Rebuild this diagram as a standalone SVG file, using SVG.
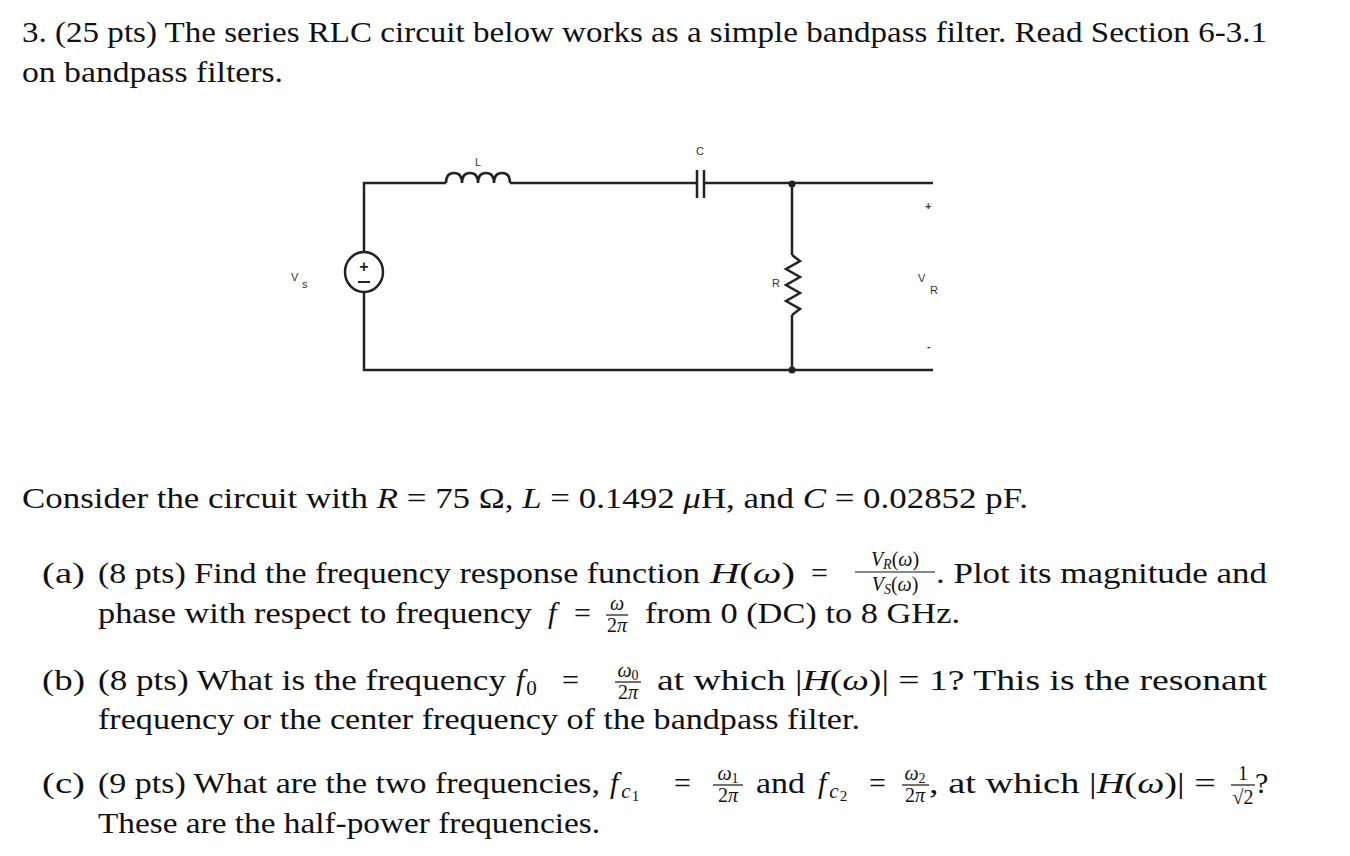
<svg xmlns="http://www.w3.org/2000/svg" width="1350" height="856" viewBox="0 0 1350 856">
<style>
.t{font-family:"Liberation Serif","DejaVu Serif",serif;font-size:30px;fill:#111}
.i{font-style:italic}
.s{font-family:"Liberation Serif",serif;font-size:20px;fill:#111}
.c{font-family:"Liberation Sans",Arial,sans-serif;font-size:11px;fill:#333}
.w{stroke:#222;stroke-width:2.5;fill:none}
.fl{stroke:#111;stroke-width:1.2}
</style>
<rect width="1350" height="856" fill="#fff"/>
<text class="t" x="22" y="42" textLength="1245" lengthAdjust="spacingAndGlyphs">3. (25 pts) The series RLC circuit below works as a simple bandpass filter. Read Section 6-3.1</text>
<text class="t" x="22" y="82" textLength="261" lengthAdjust="spacingAndGlyphs">on bandpass filters.</text>
<g id="wires">
<path class="w" d="M364,253 V183 H446 M510,183 H697 M704,183 H933 M364,291 V370 H933 M792,183 V255 M792,315 V370"/>
</g>
<g id="L"><path class="w" d="M446,183 q0,-10 8,-10 q8,0 8,10 q0,-10 8,-10 q8,0 8,10 q0,-10 8,-10 q8,0 8,10 q0,-10 8,-10 q8,0 8,10"/><text class="c" x="478" y="166" text-anchor="middle">L</text></g>
<g id="C"><path class="w" d="M697,170 V198 M704,170 V198"/><text class="c" x="700" y="155" text-anchor="middle">C</text></g>
<g id="R"><path class="w" d="M792,255 l8,6 l-14,8 l14,8 l-14,8 l14,8 l-14,8 l14,8 l-8,6"/><text class="c" x="780" y="287" text-anchor="end">R</text></g>
<g id="Vs"><ellipse class="w" cx="364" cy="272" rx="19" ry="20"/><text x="364" y="272" font-family="Liberation Sans,sans-serif" font-size="16" font-weight="bold" text-anchor="middle" fill="#222">+</text><path d="M358,282 h12" stroke="#222" stroke-width="2"/><text class="c" x="291" y="281" font-size="16">V</text><text class="c" x="302" y="288" font-size="7">s</text></g>
<g id="nodes"><circle cx="792" cy="184" r="3.5" fill="#222"/><circle cx="792" cy="370" r="3.5" fill="#222"/></g>
<g id="VR"><text class="c" x="918" y="282" font-size="16">V</text><text class="c" x="930" y="294" font-size="8">R</text><text class="c" x="925" y="210" font-size="15" font-weight="bold">+</text><text class="c" x="927" y="350" font-size="15" font-weight="bold">-</text></g>

<text class="t" x="22" y="508" textLength="1006" lengthAdjust="spacingAndGlyphs">Consider the circuit with <tspan class="i">R</tspan> = 75 Ω, <tspan class="i">L</tspan> = 0.1492 <tspan class="i">μ</tspan>H, and <tspan class="i">C</tspan> = 0.02852 pF.</text>

<text class="t" x="42" y="583" textLength="43" lengthAdjust="spacingAndGlyphs">(a)</text>
<text class="t" x="98" y="583" textLength="602" lengthAdjust="spacingAndGlyphs">(8 pts) Find the frequency response function</text>
<text class="t" x="710" y="583" textLength="85" lengthAdjust="spacingAndGlyphs"><tspan class="i">H</tspan>(<tspan class="i">ω</tspan>)</text>
<text class="t" x="811" y="583" font-size="32">=</text>
<text class="s" x="895" y="566" text-anchor="middle"><tspan class="i">V</tspan><tspan class="i" font-size="14" dy="3">R</tspan><tspan dy="-3">(</tspan><tspan class="i">ω</tspan>)</text>
<path class="fl" d="M855,572 H935"/>
<text class="s" x="895" y="591" text-anchor="middle"><tspan class="i">V</tspan><tspan class="i" font-size="14" dy="3">S</tspan><tspan dy="-3">(</tspan><tspan class="i">ω</tspan>)</text>
<text class="t" x="936" y="583" textLength="331" lengthAdjust="spacingAndGlyphs">.  Plot its magnitude and</text>
<text class="t" x="98" y="623" textLength="434" lengthAdjust="spacingAndGlyphs">phase with respect to frequency</text>
<text class="t i" x="548" y="623">f</text>
<text class="t" x="574" y="623" font-size="32">=</text>
<text class="s i" x="617" y="610" text-anchor="middle">ω</text><path class="fl" d="M606,615 H628"/><text class="s" x="617" y="632" text-anchor="middle">2<tspan class="i">π</tspan></text>
<text class="t" x="645" y="623" textLength="315" lengthAdjust="spacingAndGlyphs">from 0 (DC) to 8 GHz.</text>

<text class="t" x="42" y="690" textLength="43" lengthAdjust="spacingAndGlyphs">(b)</text>
<text class="t" x="98" y="690" textLength="408" lengthAdjust="spacingAndGlyphs">(8 pts) What is the frequency</text>
<text class="t i" x="516" y="690">f<tspan font-size="21" font-style="normal" dx="2" dy="5">0</tspan></text>
<text class="t" x="562" y="690" font-size="32">=</text>
<text class="s i" x="628" y="677" text-anchor="middle">ω<tspan font-size="14" font-style="normal" dy="3">0</tspan></text><path class="fl" d="M615,682 H641"/><text class="s" x="628" y="699" text-anchor="middle">2<tspan class="i">π</tspan></text>
<text class="t" x="657" y="690" textLength="610" lengthAdjust="spacingAndGlyphs">at which |<tspan class="i">H</tspan>(<tspan class="i">ω</tspan>)| = 1?  This is the resonant</text>
<text class="t" x="98" y="729" textLength="762" lengthAdjust="spacingAndGlyphs">frequency or the center frequency of the bandpass filter.</text>

<text class="t" x="42" y="793" textLength="43" lengthAdjust="spacingAndGlyphs">(c)</text>
<text class="t" x="98" y="793" textLength="502" lengthAdjust="spacingAndGlyphs">(9 pts) What are the two frequencies,</text>
<text class="t i" x="610" y="793">f<tspan font-size="21" dx="3" dy="5">c</tspan><tspan font-size="15" font-style="normal" dx="1" dy="3">1</tspan></text>
<text class="t" x="674" y="793" font-size="32">=</text>
<text class="s i" x="728" y="780" text-anchor="middle">ω<tspan font-size="14" font-style="normal" dy="3">1</tspan></text><path class="fl" d="M713,785 H743"/><text class="s" x="728" y="802" text-anchor="middle">2<tspan class="i">π</tspan></text>
<text class="t" x="756" y="793" textLength="49" lengthAdjust="spacingAndGlyphs">and</text>
<text class="t i" x="818" y="793">f<tspan font-size="21" dx="3" dy="5">c</tspan><tspan font-size="15" font-style="normal" dx="1" dy="3">2</tspan></text>
<text class="t" x="869" y="793" font-size="32">=</text>
<text class="s i" x="915" y="780" text-anchor="middle">ω<tspan font-size="14" font-style="normal" dy="3">2</tspan></text><path class="fl" d="M902,785 H929"/><text class="s" x="915" y="802" text-anchor="middle">2<tspan class="i">π</tspan></text>
<text class="t" x="929" y="793" textLength="287" lengthAdjust="spacingAndGlyphs">, at which |<tspan class="i">H</tspan>(<tspan class="i">ω</tspan>)| =</text>
<text class="s" x="1243" y="780" text-anchor="middle">1</text><path class="fl" d="M1231,785 H1255"/><text class="s" x="1243" y="804" text-anchor="middle">√2</text>
<text class="t" x="1255" y="793">?</text>
<text class="t" x="98" y="833" textLength="502" lengthAdjust="spacingAndGlyphs">These are the half-power frequencies.</text>
</svg>
